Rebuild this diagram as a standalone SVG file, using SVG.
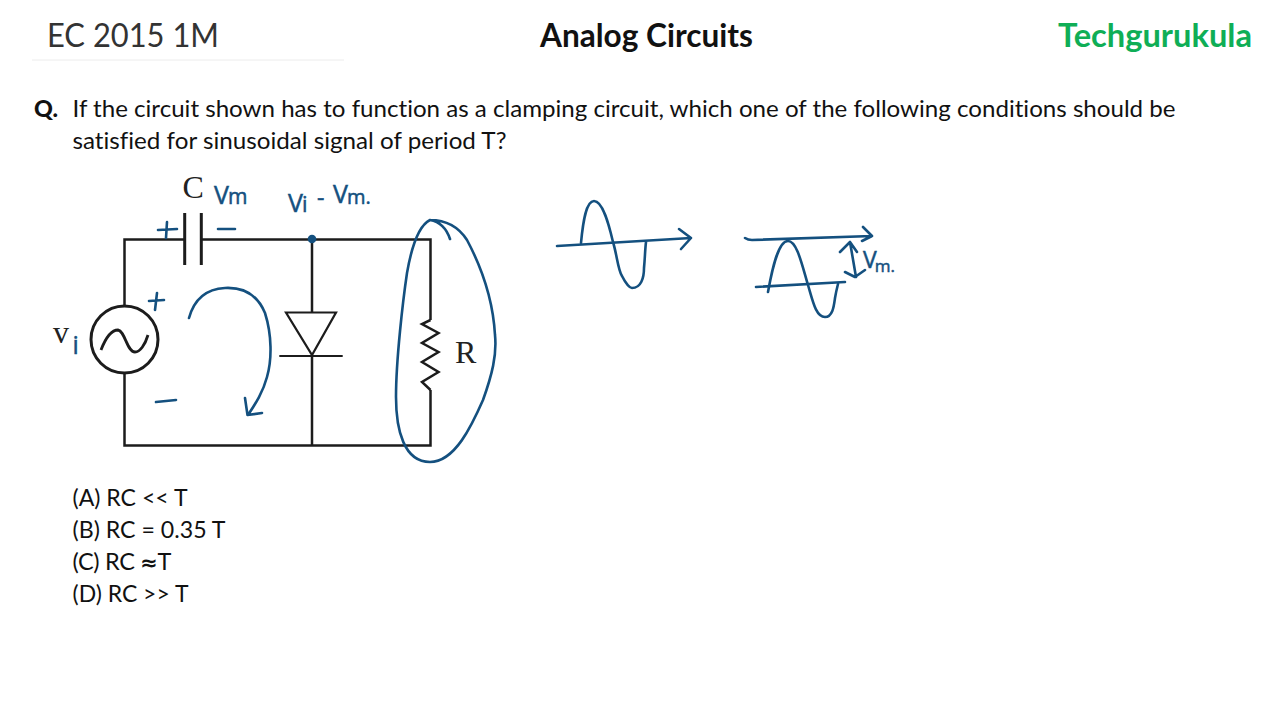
<svg xmlns="http://www.w3.org/2000/svg" width="1280" height="720" viewBox="0 0 1280 720">
<style>
text{font-family:"Lato","Liberation Sans",sans-serif;fill:#111;font-variant-ligatures:none}
.serif{font-family:"Liberation Serif",serif;font-size:32px;fill:#222}
.body{font-size:23.5px}
.hand{font-family:"Open Sans","Liberation Sans",sans-serif;fill:#14507f;stroke:#14507f;stroke-width:.5}
.wire{fill:none;stroke:#1c1c1c;stroke-width:2.5;stroke-linejoin:miter}
.ink{fill:none;stroke:#14507f;stroke-width:2.6;stroke-linecap:round;stroke-linejoin:round}
</style>
<rect width="1280" height="720" fill="#fff"/>
<g id="header">
<text x="47" y="47" font-size="32" textLength="172" lengthAdjust="spacingAndGlyphs" style="fill:#333">EC 2015 1M</text>
<line x1="32" y1="60" x2="344" y2="60" stroke="#ececec" stroke-width="1"/>
<text x="540" y="47" font-size="32" font-weight="700" textLength="213" lengthAdjust="spacingAndGlyphs">Analog Circuits</text>
<text x="1058" y="47" font-size="32" font-weight="700" textLength="194" lengthAdjust="spacingAndGlyphs" style="fill:#0fae56">Techgurukula</text>
</g>
<g id="question">
<text x="34" y="117" class="body" font-weight="900" textLength="24" lengthAdjust="spacingAndGlyphs">Q.</text>
<text x="72.500" y="117" class="body" textLength="1103" lengthAdjust="spacingAndGlyphs">If the circuit shown has to function as a clamping circuit, which one of the following conditions should be</text>
<text x="72.500" y="148.500" class="body" textLength="434" lengthAdjust="spacingAndGlyphs">satisfied for sinusoidal signal of period T?</text>
</g>
<g id="options">
<text x="72.500" y="506" class="body" textLength="115" lengthAdjust="spacingAndGlyphs">(A) RC &lt;&lt; T</text>
<text x="72.500" y="538" class="body" textLength="153" lengthAdjust="spacingAndGlyphs">(B) RC = 0.35 T</text>
<text x="72.500" y="570" class="body" textLength="99">(C) RC <tspan font-family="DejaVu Sans" font-size="21" font-weight="700">≈</tspan>T</text>
<text x="72.500" y="601.500" class="body" textLength="116" lengthAdjust="spacingAndGlyphs">(D) RC &gt;&gt; T</text>
</g>
<g id="connectors">
<path class="wire" d="M185 239.500H124.500V306M124.500 373V445.500H430.500V390M430.500 320V239.500H201"/>
<path class="wire" d="M312 239.500V312M312 356V445.500"/>
</g>
<g id="capacitor">
<path class="wire" style="stroke-width:3" d="M184.700 213V265M201.300 213V265"/>
<text class="serif" x="182.500" y="198">C</text>
</g>
<g id="source">
<circle class="wire" style="stroke-width:3" cx="124.500" cy="339.500" r="33.500"/>
<path class="wire" style="stroke-width:2.800" d="M101 350C106 337 112 330 118 330C125 331 127 352 135 352C140 352 145 345 148 335"/>
<text class="serif" x="53" y="343">v</text>
<text class="hand" x="72.500" y="354" font-size="25">i</text>
</g>
<g id="diode">
<path class="wire" style="stroke-width:2.200" d="M286 312.500H336L312 355Z"/>
<path class="wire" style="stroke-width:2.200" d="M279.300 356H342.700"/>
</g>
<g id="resistor">
<path class="wire" d="M430.500 320L422 324L438.500 333L422 343L438.500 352L422 362L438.500 372L422 382L430.500 390"/>
<text class="serif" x="455" y="363">R</text>
</g>
<g id="annotations">
<circle cx="312" cy="239" r="4.300" fill="#14507f"/>
<text class="hand" x="214" y="204" font-size="25">V<tspan font-size="21" dx="-1">m</tspan></text>
<text class="hand" x="288" y="212" font-size="25">V<tspan dx="-1" font-size="22">i</tspan><tspan x="317" dy="-6" font-size="23">-</tspan><tspan x="333" dy="-3" font-size="25">V</tspan><tspan dx="-1" dy="1" font-size="20">m.</tspan></text>
<text class="hand" x="863" y="268" font-size="23">V<tspan dx="-2" dy="4" font-size="17">m.</tspan></text>
<path class="ink" d="M158 230L177 229M167 222L166 238M218 229H235M149 301L164 300M157 293L155 310M156 402L176 400"/>
<path class="ink" d="M189 318C194 300 205 289 225 288C245 287 258 296 265 313C272 335 272 360 267 377C263 392 256 403 248 415M245 398L247.500 415L262 413"/>
<path class="ink" d="M450 239C447 230 441 222 430 220C418 226 411 250 407 273C403 300 396 360 396 397C396 430 404 462 430 462C455 462 472 425 483 400C492 375 497 355 495 335C493 300 483 270 467 240C458 226 445 220 430 220"/>
<path class="ink" d="M557 246L691 238M679 229L691 238L681 249"/>
<path class="ink" d="M581 243C583 222 586 201 594 201C603 201 609 225 613 242C617 255 618 270 622 276C626 284 630 288 632 288C641 288 644 278 644 268C645 258 645 250 646 242"/>
<path class="ink" d="M745 238C748 240 750 240 752 240L872 236M863 227L872 236L862 241"/>
<path class="ink" d="M756 287L845 282"/>
<path class="ink" d="M768 292C772 270 778 241 788 241C797 241 802 265 808 285C813 302 816 317 825 317C833 317 834 305 835 298C836 292 837 288 838 284"/>
<path class="ink" d="M850 242L856 277M840 252L850 242L857 252M845 272L855 277L865 270"/>
</g>
</svg>
